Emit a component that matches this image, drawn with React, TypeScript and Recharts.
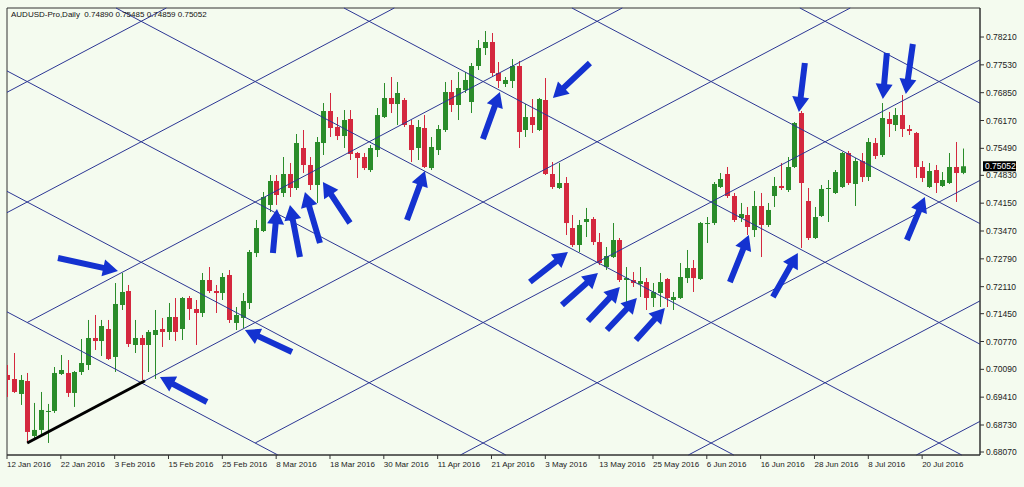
import React from 'react';
import { ComposedChart, Bar, XAxis, YAxis, ReferenceLine, ReferenceArea } from 'recharts';

// daily candles, 12 Jan 2016 .. 28 Jul 2016 (index = trading day)
const opens = [
  0.69952, 0.69854, 0.69488, 0.69805, 0.68462, 0.68609, 0.69049, 0.69073, 0.69976, 0.70001,
  0.69513, 0.70025, 0.70196, 0.70856, 0.70782, 0.71076, 0.70392, 0.71662, 0.72004, 0.70685,
  0.70856, 0.70685, 0.70929, 0.71076, 0.71003, 0.71369, 0.71076, 0.71833, 0.71564, 0.71467,
  0.72273, 0.72004, 0.71955, 0.72395, 0.71223, 0.71345, 0.71711, 0.72932, 0.73470, 0.74106,
  0.74692, 0.74399, 0.74863, 0.74521, 0.75498, 0.75083, 0.74594, 0.75620, 0.76402, 0.76011,
  0.75791, 0.76207, 0.75376, 0.75278, 0.74960, 0.75449, 0.76255, 0.76720, 0.76573, 0.76671,
  0.76060, 0.75498, 0.75987, 0.75009, 0.75449, 0.75938, 0.76866, 0.76549, 0.76915, 0.76622,
  0.77502, 0.77941, 0.78088, 0.77331, 0.77062, 0.77135, 0.77502, 0.75938, 0.76255, 0.75938,
  0.76671, 0.74863, 0.74521, 0.74643, 0.73543, 0.73128, 0.73690, 0.73763, 0.73201, 0.72590,
  0.72834, 0.73250, 0.72273, 0.72273, 0.72175, 0.72224, 0.71833, 0.71955, 0.72297, 0.71784,
  0.71833, 0.72321, 0.72566, 0.72297, 0.73641, 0.73665, 0.74545, 0.74863, 0.74325, 0.73788,
  0.73861, 0.73494, 0.74081, 0.73617, 0.74325, 0.74570, 0.74472, 0.75034, 0.76353, 0.74203,
  0.73299, 0.73837, 0.74497, 0.74399, 0.74545, 0.75376, 0.74619, 0.75180, 0.74789, 0.75620,
  0.75327, 0.76207, 0.76060, 0.76304, 0.75962, 0.75865, 0.75034, 0.74545, 0.74960, 0.74570,
  0.74643, 0.75034, 0.74890,
];
const highs = [
  0.70196, 0.70489, 0.69952, 0.70001, 0.69269, 0.69537, 0.69244, 0.70147, 0.70440, 0.70318,
  0.70050, 0.70831, 0.71296, 0.71418, 0.71296, 0.71296, 0.72199, 0.72444, 0.72151, 0.71296,
  0.70929, 0.71051, 0.71540, 0.71345, 0.71711, 0.71833, 0.71858, 0.71882, 0.71784, 0.72444,
  0.72590, 0.72151, 0.72444, 0.72517, 0.71613, 0.71955, 0.73006, 0.73739, 0.74423, 0.74838,
  0.74838, 0.75278, 0.75132, 0.75840, 0.75938, 0.75278, 0.75767, 0.76597, 0.76842, 0.76255,
  0.76426, 0.76426, 0.75400, 0.75376, 0.75571, 0.76475, 0.77086, 0.77233, 0.77111, 0.76720,
  0.76182, 0.76182, 0.76304, 0.75767, 0.76060, 0.77111, 0.77160, 0.77355, 0.77355, 0.77575,
  0.78137, 0.78357, 0.78308, 0.77599, 0.77233, 0.77673, 0.77624, 0.76573, 0.76695, 0.76720,
  0.77208, 0.75156, 0.75132, 0.74789, 0.73861, 0.73739, 0.74033, 0.73812, 0.73421, 0.73079,
  0.73665, 0.73299, 0.72590, 0.72468, 0.72590, 0.72321, 0.72199, 0.72444, 0.72321, 0.71980,
  0.72688, 0.73006, 0.72761, 0.73690, 0.73812, 0.74667, 0.74887, 0.75034, 0.74399, 0.74155,
  0.74057, 0.74448, 0.74399, 0.74155, 0.74789, 0.75132, 0.75278, 0.76133, 0.76402, 0.74521,
  0.74057, 0.74594, 0.74716, 0.74960, 0.75400, 0.75425, 0.75254, 0.75376, 0.75742, 0.75742,
  0.76597, 0.76378, 0.76475, 0.76793, 0.76060, 0.75889, 0.75180, 0.75132, 0.75083, 0.74911,
  0.75376, 0.75645, 0.75485,
];
const lows = [
  0.69415, 0.69513, 0.69220, 0.68291, 0.68364, 0.68487, 0.68291, 0.69024, 0.69952, 0.69415,
  0.69171, 0.69952, 0.70074, 0.70563, 0.70416, 0.70318, 0.70025, 0.71540, 0.70636, 0.70489,
  0.69830, 0.70025, 0.69854, 0.70636, 0.70807, 0.70782, 0.70807, 0.71296, 0.70685, 0.71369,
  0.71955, 0.71467, 0.71784, 0.71223, 0.71051, 0.71100, 0.71564, 0.72834, 0.73445, 0.73935,
  0.74106, 0.74301, 0.74301, 0.74472, 0.74887, 0.74472, 0.74155, 0.75327, 0.75767, 0.75693,
  0.75498, 0.75205, 0.74765, 0.74960, 0.74911, 0.75278, 0.76231, 0.76353, 0.76060, 0.76011,
  0.75156, 0.75205, 0.75009, 0.74960, 0.75327, 0.75889, 0.76378, 0.76182, 0.76842, 0.76353,
  0.77404, 0.77770, 0.77257, 0.76964, 0.76988, 0.76964, 0.75498, 0.75767, 0.75865, 0.75913,
  0.74838, 0.74497, 0.74497, 0.73372, 0.73079, 0.72957, 0.73323, 0.73128, 0.72639, 0.72517,
  0.72810, 0.72224, 0.71711, 0.72102, 0.71858, 0.71540, 0.71613, 0.71613, 0.71613, 0.71540,
  0.71809, 0.72199, 0.71980, 0.72273, 0.73177, 0.73617, 0.74521, 0.74277, 0.73690, 0.73690,
  0.73372, 0.73323, 0.72834, 0.73568, 0.74057, 0.74472, 0.74423, 0.75009, 0.73054, 0.73250,
  0.73274, 0.73812, 0.73690, 0.74374, 0.74521, 0.74594, 0.74081, 0.74667, 0.74692, 0.75229,
  0.75278, 0.75767, 0.75913, 0.75767, 0.75816, 0.74765, 0.74667, 0.74521, 0.74399, 0.74545,
  0.74619, 0.74179, 0.74859,
];
const closes = [
  0.69830, 0.69537, 0.69830, 0.68560, 0.68609, 0.69097, 0.69073, 0.70001, 0.70074, 0.69513,
  0.70025, 0.70245, 0.70856, 0.70782, 0.71149, 0.70343, 0.71687, 0.71980, 0.70709, 0.70856,
  0.70685, 0.71003, 0.71051, 0.71003, 0.71369, 0.71003, 0.71833, 0.71564, 0.71467, 0.72273,
  0.72004, 0.71955, 0.72346, 0.71296, 0.71418, 0.71760, 0.72957, 0.73543, 0.74301, 0.74692,
  0.74350, 0.74863, 0.74521, 0.75620, 0.75083, 0.74594, 0.75645, 0.76402, 0.75987, 0.75791,
  0.76182, 0.75352, 0.75254, 0.75009, 0.75498, 0.76304, 0.76720, 0.76573, 0.76842, 0.76060,
  0.75449, 0.76011, 0.75034, 0.75523, 0.75962, 0.76866, 0.76549, 0.76964, 0.77160, 0.77502,
  0.77941, 0.78088, 0.77331, 0.77135, 0.77160, 0.77502, 0.75889, 0.76255, 0.76060, 0.76695,
  0.74863, 0.74545, 0.74643, 0.73665, 0.73128, 0.73617, 0.73763, 0.73201, 0.72688, 0.72859,
  0.73250, 0.72273, 0.72321, 0.72199, 0.72248, 0.71833, 0.71980, 0.72224, 0.71833, 0.71858,
  0.72346, 0.72566, 0.72321, 0.73665, 0.73665, 0.74619, 0.74741, 0.74325, 0.73739, 0.73886,
  0.73568, 0.74081, 0.73617, 0.73984, 0.74570, 0.74521, 0.75034, 0.76109, 0.74643, 0.73299,
  0.73812, 0.74497, 0.74521, 0.74911, 0.75376, 0.74643, 0.75180, 0.74789, 0.75645, 0.75303,
  0.76231, 0.76084, 0.76304, 0.75962, 0.75913, 0.75034, 0.74765, 0.74936, 0.74643, 0.74716,
  0.75034, 0.74887, 0.75052,
];

const tickIndex = [0, 8, 16, 24, 32, 40, 48, 56, 64, 72, 80, 88, 96, 104, 112, 120, 128, 136];
const tickLabels = [
  '12 Jan 2016', '22 Jan 2016', '3 Feb 2016', '15 Feb 2016', '25 Feb 2016', '8 Mar 2016',
  '18 Mar 2016', '30 Mar 2016', '11 Apr 2016', '21 Apr 2016', '3 May 2016', '13 May 2016',
  '25 May 2016', '6 Jun 2016', '16 Jun 2016', '28 Jun 2016', '8 Jul 2016', '20 Jul 2016',
];
const priceTicks = [
  0.7821, 0.7753, 0.7685, 0.7617, 0.7549, 0.7483, 0.7415, 0.7347,
  0.7279, 0.7211, 0.7145, 0.7077, 0.7009, 0.6941, 0.6873, 0.6807,
];
const lastPrice = 0.75052;

// hand drawn arrows: [tailIndex, tailPrice, tipIndex, tipPrice]
const arrows = [
  [7.58, 0.7281, 16.49, 0.72493],
  [29.72, 0.69292, 22.73, 0.69903],
  [42.35, 0.70514, 35.36, 0.71051],
  [39.52, 0.72933, 40.12, 0.74008],
  [43.54, 0.72835, 42.05, 0.74106],
  [46.51, 0.73177, 44.28, 0.74423],
  [50.97, 0.73666, 46.95, 0.74667],
  [59.44, 0.73739, 62.11, 0.74936],
  [70.73, 0.75718, 73.25, 0.76866],
  [86.63, 0.77575, 81.13, 0.7672],
  [77.71, 0.72224, 83.36, 0.72957],
  [82.47, 0.71662, 87.82, 0.72444],
  [86.33, 0.71271, 91.08, 0.72102],
  [89.15, 0.71051, 93.61, 0.71833],
  [93.46, 0.70807, 97.77, 0.71589],
  [107.43, 0.72224, 110.25, 0.73372],
  [113.82, 0.71858, 117.53, 0.72933],
  [118.57, 0.77575, 117.68, 0.76378],
  [130.76, 0.77819, 130.16, 0.76695],
  [134.62, 0.78039, 133.58, 0.76817],
  [133.73, 0.7325, 136.4, 0.74301],
];

// gann style grid: anchored at the mid-January low
const anchorIdx = 3;
const anchorPrice = 0.6829;
const gridStep = 0.02944;
const gridSlope = 0.000869;
const risingLines = [
  { n: 3, from: 0 }, { n: 2, from: 0 }, { n: 1, from: 3 }, { n: 0, from: 19.9 },
  { n: -1, from: 36.9 }, { n: -2, from: 0 }, { n: -3, from: 0 }, { n: -4, from: 0 },
];
const fallingLines = [1, 2, 3, 4, 5, 6, 7];
const baseLine = [3, 20.5];

const X_MAX = 144.6;
const Y_MIN = 0.67997;
const Y_MAX = 0.78919;

const UP = '#2a8c2a';
const DOWN = '#d4283e';
const GRID = '#2c3694';
const ARROW = '#1432d0';
const BG = '#f4fbef';

const candles = opens.map((o, i) => ({ i, open: o, high: highs[i], low: lows[i], close: closes[i] }));

function clipSeg(a: number, b: number, i0: number, i1: number) {
  const at = (i: number) => a + b * (i - anchorIdx);
  let lo = i0;
  let hi = i1;
  const e1 = anchorIdx + (Y_MIN - a) / b;
  const e2 = anchorIdx + (Y_MAX - a) / b;
  lo = Math.max(lo, Math.min(e1, e2));
  hi = Math.min(hi, Math.max(e1, e2));
  if (hi <= lo) return null;
  return [{ x: lo, y: at(lo) }, { x: hi, y: at(hi) }];
}

const gridSegs: any[] = [];
risingLines.forEach((r) => {
  const s = clipSeg(anchorPrice + r.n * gridStep, gridSlope, r.from, X_MAX);
  if (s) gridSegs.push(s);
});
fallingLines.forEach((m) => {
  const s = clipSeg(anchorPrice + m * gridStep, -gridSlope, 0, X_MAX);
  if (s) gridSegs.push(s);
});

function Candle(props: any) {
  const { x, y, width, height, payload } = props;
  const { open, close, high, low } = payload;
  const top = Math.min(y, y + height);
  const h = Math.abs(height);
  const ppu = high > low ? h / (high - low) : 0;
  const bodyTop = top + (high - Math.max(open, close)) * ppu;
  const bodyH = Math.max(1, Math.abs(open - close) * ppu);
  const color = close >= open ? UP : DOWN;
  const cx = Math.round(x + width / 2) + 0.5;
  return (
    <g>
      <line x1={cx} x2={cx} y1={top} y2={top + h} stroke={color} strokeWidth={1} />
      <rect x={cx - 2.5} y={bodyTop} width={5} height={bodyH} fill={color} />
    </g>
  );
}

function Arrow(props: any) {
  const { x1, y1, x2, y2 } = props;
  const dx = x2 - x1;
  const dy = y2 - y1;
  const len = Math.hypot(dx, dy) || 1;
  const ux = dx / len;
  const uy = dy / len;
  const nx = -uy;
  const ny = ux;
  const head = 15;
  const hw = 8.5;
  const sw = 3;
  const bx = x2 - ux * head;
  const by = y2 - uy * head;
  const pts = [
    [x1 + nx * sw, y1 + ny * sw],
    [bx + nx * sw, by + ny * sw],
    [bx + nx * hw, by + ny * hw],
    [x2, y2],
    [bx - nx * hw, by - ny * hw],
    [bx - nx * sw, by - ny * sw],
    [x1 - nx * sw, y1 - ny * sw],
  ];
  return <polygon points={pts.map((p) => p.join(',')).join(' ')} fill={ARROW} />;
}

function DateTick(props: any) {
  const { x, y, payload } = props;
  const k = tickIndex.indexOf(payload.value);
  return (
    <text x={x} y={y} dy="0.71em" textAnchor="start" fontSize={8} fill="#222" fontFamily="Liberation Sans, Arial, sans-serif">
      {k >= 0 ? tickLabels[k] : ''}
    </text>
  );
}

function PriceTag(props: any) {
  const vb = props.viewBox || {};
  const right = (vb.x || 0) + (vb.width || 0);
  return (
    <g>
      <rect x={right + 3} y={vb.y - 5} width={33} height={10} fill="#000" />
      <text x={right + 5} y={vb.y} dominantBaseline="central" fontSize={8.5} fill="#fff" fontFamily="Liberation Sans, Arial, sans-serif">
        {lastPrice.toFixed(5)}
      </text>
    </g>
  );
}

export default function App() {
  return (
    <div style={{ position: 'absolute', left: 0, top: 0, width: 1024, height: 487, background: BG }}>
      <ComposedChart
        width={1024}
        height={487}
        data={candles}
        margin={{ top: 8, right: 0, left: 7, bottom: 0 }}
      >
        <XAxis
          dataKey="i"
          type="number"
          domain={[0, X_MAX]}
          allowDataOverflow
          ticks={tickIndex}
          interval={0}
          tick={<DateTick />}
          tickSize={4}
          height={32}
          axisLine={{ stroke: '#333' }}
          tickLine={{ stroke: '#333' }}
        />
        <YAxis
          orientation="right"
          type="number"
          domain={[Y_MIN, Y_MAX]}
          allowDataOverflow
          ticks={priceTicks}
          interval={0}
          width={44}
          tickSize={4}
          tickFormatter={(v: number) => v.toFixed(5)}
          tick={{ fontSize: 8.5, fill: '#222', fontFamily: 'Liberation Sans, Arial, sans-serif' }}
          axisLine={{ stroke: '#333' }}
          tickLine={{ stroke: '#333' }}
        />
        <ReferenceArea x1={0} x2={X_MAX} y1={Y_MIN} y2={Y_MAX} fill="none" stroke="#333" ifOverflow="visible" />
        {gridSegs.map((s, k) => (
          <ReferenceLine key={'g' + k} segment={s} stroke={GRID} strokeWidth={1} ifOverflow="visible" />
        ))}
        <ReferenceLine
          segment={[
            { x: baseLine[0], y: anchorPrice + gridSlope * (baseLine[0] - anchorIdx) },
            { x: baseLine[1], y: anchorPrice + gridSlope * (baseLine[1] - anchorIdx) },
          ]}
          stroke="#000"
          strokeWidth={3}
          ifOverflow="visible"
        />
        <Bar
          dataKey={(d: any) => [d.low, d.high]}
          barSize={5}
          shape={<Candle />}
          isAnimationActive={false}
        />
        {arrows.map((a, k) => (
          <ReferenceLine
            key={'a' + k}
            segment={[{ x: a[0], y: a[1] }, { x: a[2], y: a[3] }]}
            ifOverflow="visible"
            shape={(p: any) => <Arrow {...p} />}
          />
        ))}
        <ReferenceLine y={lastPrice} stroke="none" ifOverflow="visible" label={(p: any) => <PriceTag {...p} />} />
      </ComposedChart>
      <div
        style={{
          position: 'absolute',
          left: 11,
          top: 11,
          fontSize: 8,
          lineHeight: '8px',
          color: '#111',
          whiteSpace: 'pre',
          fontFamily: 'Liberation Sans, Arial, sans-serif',
        }}
      >
        {'AUDUSD-Pro,Daily  0.74890 0.75485 0.74859 0.75052'}
      </div>
    </div>
  );
}
